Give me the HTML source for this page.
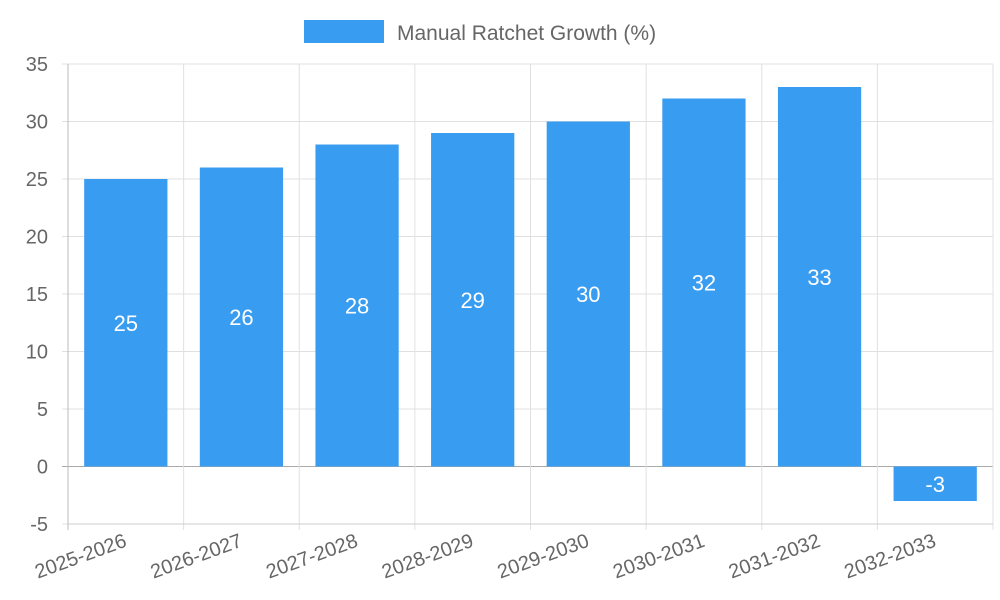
<!DOCTYPE html>
<html><head><meta charset="utf-8"><style>
body{margin:0;background:#fff;}
svg{display:block;font-family:"Liberation Sans",sans-serif;}
</style></head><body>
<svg id="chart" width="1000" height="600">
<g>
<rect x="304" y="20" width="80" height="23" fill="#389cf0"></rect>
<text x="397" y="40" font-size="21" fill="#666">Manual Ratchet Growth (%)</text>
</g>
<g id="grid"></g><g id="bars"></g><g id="labels"></g>
</svg>
<script>
const categories=["2025-2026","2026-2027","2027-2028","2028-2029","2029-2030","2030-2031","2031-2032","2032-2033"];
const values=[25,26,28,29,30,32,33,-3];
const yTicks=[-5,0,5,10,15,20,25,30,35];
const NS="http://www.w3.org/2000/svg";
const L=68,R=993,T=64,B=524,yMin=-5,yMax=35;
const y=v=>T+(yMax-v)/(yMax-yMin)*(B-T);
const cw=(R-L)/categories.length;
const x=i=>L+cw*i;
function mk(tag,attrs,parent){const e=document.createElementNS(NS,tag);for(const k in attrs)e.setAttribute(k,attrs[k]);parent.appendChild(e);return e;}
const grid=document.getElementById('grid'),bars=document.getElementById('bars'),labels=document.getElementById('labels');
yTicks.forEach(t=>{
 const ln=mk('line',{x1:L-6,x2:R,y1:y(t),y2:y(t),stroke:t===0?'#aaa':'#e0e0e0','stroke-width':1},grid);
 
 
 const tx=mk('text',{x:48,y:y(t)+7,'text-anchor':'end','font-size':20,fill:'#666'},grid);
 tx.textContent=t;
 
 
});
for(let i=0;i<=categories.length;i++){
 const ln=mk('line',{x1:x(i),x2:x(i),y1:T,y2:B+6,stroke:i===0?'#bbb':'#e0e0e0','stroke-width':1},grid);
 
 
}
const ax=mk('line',{x1:L,x2:R,y1:B,y2:B,stroke:'#ccc'},grid);


categories.forEach((c,i)=>{
 const v=values[i],bw=cw*0.72,bx=x(i)+(cw-bw)/2;
 const top=Math.min(y(v),y(0)),h=Math.abs(y(v)-y(0));
 const r=mk('rect',{x:bx,y:top,width:bw,height:h,fill:'#389cf0'},bars);
 
 
 const vt=mk('text',{x:x(i)+cw/2,y:top+h/2+8,'text-anchor':'middle','font-size':22,fill:'#fff'},labels);
 vt.textContent=v;
 
 
 const cx=x(i)+cw/2+2,cy=B+22;
 const lt=mk('text',{x:cx,y:cy,'text-anchor':'end','font-size':20,fill:'#666',transform:`rotate(-20 ${cx} ${cy})`},labels);
 lt.textContent=c;
 
 
});
</script>
</body></html>
